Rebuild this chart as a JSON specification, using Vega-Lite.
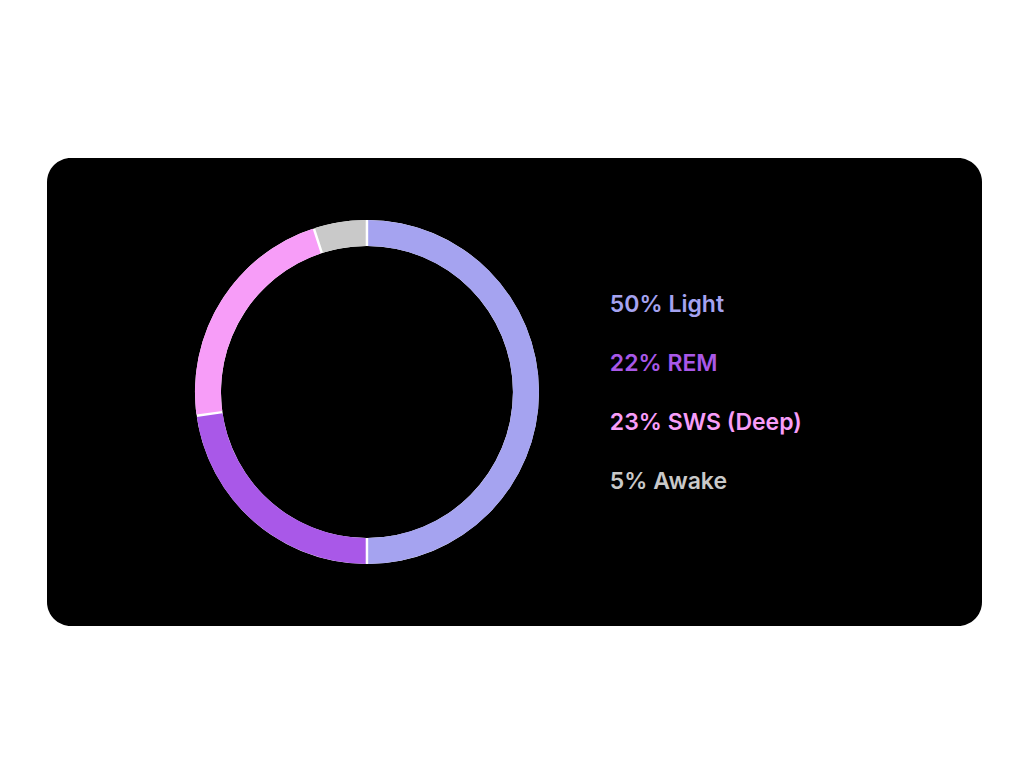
{
  "$schema": "https://vega.github.io/schema/vega-lite/v6.json",
  "width": 935,
  "height": 468,
  "autosize": {"type": "none"},
  "padding": {"left": 47, "top": 158, "right": 48, "bottom": 157},
  "background": "white",
  "config": {"view": {"fill": "black", "cornerRadius": 24, "stroke": null}},
  "data": {
    "values": [
      {"stage": "Light", "pct": 50, "rank": 1, "label": "50% Light"},
      {"stage": "REM", "pct": 22.8, "rank": 2, "label": "22% REM"},
      {"stage": "SWS", "pct": 22.2, "rank": 3, "label": "23% SWS (Deep)"},
      {"stage": "Awake", "pct": 5, "rank": 4, "label": "5% Awake"}
    ]
  },
  "layer": [
    {
      "transform": [{"aggregate": [{"op": "sum", "field": "pct", "as": "total"}]}],
      "mark": {"type": "arc", "outerRadius": 172, "innerRadius": 146, "color": "white"},
      "encoding": {
        "theta": {"field": "total", "type": "quantitative"},
        "x": {"datum": 0.3422, "type": "quantitative", "scale": {"domain": [0, 1]}, "axis": null}
      }
    },
    {
      "mark": {"type": "arc", "outerRadius": 172, "innerRadius": 146, "padAngle": 0.011},
      "encoding": {
        "theta": {"field": "pct", "type": "quantitative", "stack": true},
        "order": {"field": "rank", "type": "quantitative"},
        "color": {
          "field": "stage",
          "type": "nominal",
          "scale": {"domain": ["Light", "REM", "SWS", "Awake"], "range": ["#a5a3f0", "#a958e8", "#f79df8", "#c9c9c9"]},
          "legend": null
        },
        "x": {"datum": 0.3422, "type": "quantitative", "scale": {"domain": [0, 1]}, "axis": null}
      }
    },
    {
      "mark": {"type": "text", "align": "left", "baseline": "middle", "font": "Inter", "fontSize": 23, "fontWeight": 600},
      "encoding": {
        "x": {"datum": 0.602, "type": "quantitative", "scale": {"domain": [0, 1]}, "axis": null},
        "y": {"field": "stage", "type": "nominal", "scale": {"type": "point", "domain": ["Light", "REM", "SWS", "Awake"], "range": [147, 324], "padding": 0}, "axis": null},
        "text": {"field": "label"},
        "color": {
          "field": "stage",
          "type": "nominal",
          "scale": {"domain": ["Light", "REM", "SWS", "Awake"], "range": ["#a5a3f0", "#a958e8", "#f79df8", "#c9c9c9"]},
          "legend": null
        }
      }
    }
  ]
}
